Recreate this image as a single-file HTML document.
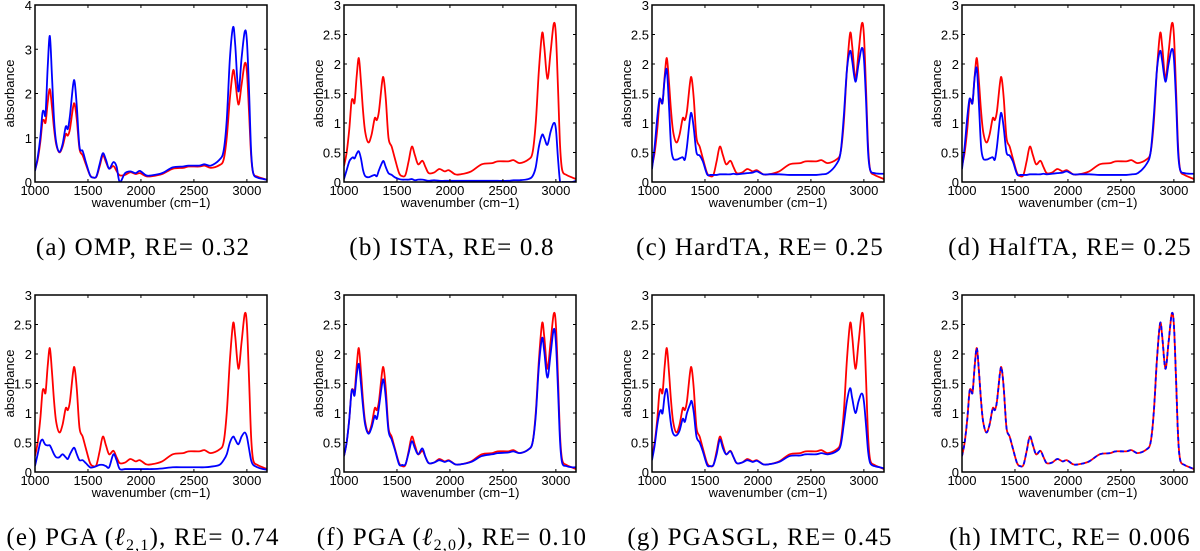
<!DOCTYPE html>
<html><head><meta charset="utf-8"><style>
html,body{margin:0;padding:0;background:#fff;}
svg{display:block;}
.tk{font-family:"Liberation Sans",sans-serif;font-size:13px;fill:#000;}
.cap{font-family:"Liberation Serif",serif;font-size:25px;letter-spacing:1.2px;fill:#000;}
</style></head><body>
<svg id="fig" width="1200" height="551" viewBox="0 0 1200 551"></svg>
<script>
const wavenumbers=[1000,1025,1050,1070,1085,1100,1120,1140,1160,1180,1200,1230,1260,1290,1310,1330,1360,1375,1395,1420,1450,1480,1520,1550,1580,1610,1640,1670,1700,1740,1770,1800,1850,1900,1950,1990,2050,2100,2200,2300,2400,2450,2550,2600,2660,2740,2780,2810,2840,2870,2890,2920,2950,2980,3000,3020,3040,3060,3100,3150,3190];
const redTrue=[0.27,0.5,0.9,1.35,1.4,1.35,1.8,2.1,1.7,1.2,0.85,0.67,0.8,1.08,1.05,1.2,1.7,1.75,1.4,0.75,0.6,0.4,0.15,0.1,0.12,0.35,0.6,0.45,0.3,0.36,0.25,0.15,0.16,0.22,0.18,0.2,0.13,0.13,0.18,0.3,0.32,0.35,0.35,0.37,0.32,0.38,0.5,1.0,1.9,2.52,2.3,1.75,2.2,2.68,2.5,1.6,0.6,0.2,0.12,0.08,0.05];
const blueOMP=[0.25,0.55,1.0,1.55,1.6,1.55,2.6,3.3,2.4,1.4,0.9,0.68,0.85,1.25,1.2,1.5,2.2,2.25,1.7,0.8,0.7,0.45,0.15,0.1,0.13,0.4,0.65,0.5,0.3,0.45,0.35,0.0,0.2,0.24,0.2,0.25,0.15,0.15,0.2,0.33,0.35,0.37,0.37,0.4,0.37,0.5,0.7,1.4,2.8,3.5,3.1,2.05,2.8,3.4,3.2,2.1,0.7,0.2,0.1,0.07,0.05];
const blueISTA=[0.05,0.2,0.35,0.4,0.42,0.4,0.48,0.52,0.4,0.2,0.1,0.08,0.1,0.12,0.1,0.2,0.33,0.35,0.25,0.15,0.12,0.08,0.05,0.04,0.04,0.04,0.05,0.03,0.04,0.04,0.03,0.02,0.03,0.02,0.02,0.02,0.02,0.02,0.02,0.02,0.02,0.02,0.02,0.03,0.03,0.05,0.1,0.25,0.6,0.8,0.75,0.63,0.85,1.0,0.9,0.4,0.0,0.0,0.0,0.0,0.02];
const blueHardTA=[0.22,0.6,1.1,1.4,1.38,1.35,1.75,1.9,1.3,0.6,0.4,0.38,0.4,0.42,0.38,0.6,1.1,1.15,0.9,0.5,0.45,0.35,0.13,0.12,0.12,0.12,0.13,0.13,0.13,0.13,0.14,0.13,0.14,0.15,0.16,0.18,0.13,0.13,0.13,0.12,0.12,0.12,0.12,0.13,0.15,0.3,0.5,1.1,1.9,2.22,2.05,1.7,2.0,2.27,2.1,1.4,0.5,0.2,0.15,0.14,0.14];
const blueHalfTA=[0.22,0.6,1.1,1.4,1.38,1.35,1.78,1.92,1.3,0.6,0.4,0.38,0.4,0.42,0.38,0.6,1.1,1.15,0.9,0.5,0.45,0.35,0.13,0.12,0.12,0.12,0.13,0.13,0.13,0.13,0.14,0.13,0.14,0.15,0.16,0.18,0.13,0.13,0.13,0.12,0.12,0.12,0.12,0.13,0.15,0.3,0.5,1.1,1.9,2.22,2.05,1.7,2.0,2.25,2.1,1.4,0.5,0.2,0.15,0.14,0.14];
const bluePGA21=[0.1,0.3,0.5,0.55,0.5,0.46,0.45,0.45,0.38,0.3,0.25,0.25,0.3,0.25,0.22,0.3,0.4,0.4,0.3,0.2,0.2,0.15,0.08,0.08,0.1,0.12,0.12,0.1,0.08,0.3,0.2,0.05,0.05,0.05,0.05,0.05,0.05,0.05,0.06,0.08,0.08,0.08,0.08,0.08,0.09,0.12,0.2,0.3,0.5,0.6,0.55,0.47,0.6,0.67,0.6,0.4,0.2,0.12,0.08,0.05,0.04];
const bluePGA20=[0.27,0.5,0.9,1.35,1.38,1.3,1.65,1.83,1.5,1.1,0.8,0.65,0.75,0.95,0.9,1.1,1.5,1.55,1.25,0.7,0.55,0.38,0.13,0.12,0.13,0.32,0.52,0.4,0.3,0.4,0.25,0.15,0.16,0.2,0.17,0.19,0.13,0.13,0.17,0.27,0.3,0.32,0.33,0.35,0.32,0.38,0.5,0.95,1.8,2.27,2.05,1.6,2.0,2.42,2.2,1.4,0.5,0.15,0.1,0.08,0.08];
const bluePGASGL=[0.2,0.45,0.8,1.0,1.05,1.0,1.3,1.4,1.1,0.8,0.65,0.62,0.7,0.9,0.85,1.0,1.15,1.2,1.0,0.6,0.5,0.35,0.12,0.1,0.12,0.3,0.55,0.4,0.3,0.35,0.25,0.15,0.16,0.2,0.17,0.19,0.13,0.13,0.17,0.27,0.28,0.3,0.3,0.32,0.3,0.35,0.45,0.8,1.2,1.42,1.25,1.0,1.2,1.33,1.2,0.8,0.35,0.15,0.1,0.08,0.06];
const blueIMTC=redTrue.slice();
const xTicks=[1000,1500,2000,2500,3000];
const yTicks4=[0,1,2,3,4];
const yTicks3=[0,0.5,1,1.5,2,2.5,3];
const panelNames=["omp","ista","hardta","halfta","pga-l21","pga-l20","pgasgl","imtc"];
const blueSeries=[blueOMP,blueISTA,blueHardTA,blueHalfTA,bluePGA21,bluePGA20,bluePGASGL,blueIMTC];
const yMaxes=[4,3,3,3,3,3,3,3];

const NS="http://www.w3.org/2000/svg";
const svg=document.getElementById('fig');
const lefts=[35,344,652,962], tops=[5,295], W=232, H=177, XMIN=1000, XMAX=3190;
function mk(tag,attrs,parent){const e=document.createElementNS(NS,tag);for(const k in attrs)e.setAttribute(k,attrs[k]);(parent||svg).appendChild(e);return e;}
function smoothPath(pts){let d="M"+pts[0][0].toFixed(2)+","+pts[0][1].toFixed(2);
 for(let i=0;i<pts.length-1;i++){const p0=pts[Math.max(0,i-1)],p1=pts[i],p2=pts[i+1],p3=pts[Math.min(pts.length-1,i+2)];
  const c1=[p1[0]+(p2[0]-p0[0])/6,p1[1]+(p2[1]-p0[1])/6],c2=[p2[0]-(p3[0]-p1[0])/6,p2[1]-(p3[1]-p1[1])/6];
  d+="C"+c1[0].toFixed(2)+","+c1[1].toFixed(2)+" "+c2[0].toFixed(2)+","+c2[1].toFixed(2)+" "+p2[0].toFixed(2)+","+p2[1].toFixed(2);}
 return d;}
const caps=[
 ["(a) OMP, RE= 0.32"],["(b) ISTA, RE= 0.8"],["(c) HardTA, RE= 0.25"],["(d) HalfTA, RE= 0.25"],
 ["(e) PGA (","2,1","), RE= 0.74"],["(f) PGA (","2,0","), RE= 0.10"],["(g) PGASGL, RE= 0.45"],["(h) IMTC, RE= 0.006"]];
for(let p=0;p<8;p++){
 const L=lefts[p%4], T=tops[Math.floor(p/4)], ymax=yMaxes[p];
 const sx=v=>L+(v-XMIN)/(XMAX-XMIN)*W, sy=v=>T+H-(v/ymax)*H;
 const g=mk('g',{});
 
 
 const cid='clip'+p;
 const cp=mk('clipPath',{id:cid},g); mk('rect',{x:L,y:T,width:W,height:H},cp);
 const red=mk('path',{d:smoothPath(wavenumbers.map((w,i)=>[sx(w),sy(redTrue[i])])),fill:'none',stroke:'#ff0000','stroke-width':1.8,'clip-path':'url(#'+cid+')'},g);
 
 
 const b=blueSeries[p];
 const blue=mk('path',{d:smoothPath(wavenumbers.map((w,i)=>[sx(w),sy(b[i])])),fill:'none',stroke:'#0000ff','stroke-width':1.8,'clip-path':'url(#'+cid+')'},g);
 if(p===7) blue.setAttribute('stroke-dasharray','4 3');
 
 
 const box=mk('rect',{x:L,y:T,width:W,height:H,fill:'none',stroke:'#000','stroke-width':1.5},g);
 
 
 xTicks.forEach(t=>{const x=sx(t);
  mk('line',{x1:x,y1:T+H,x2:x,y2:T+H-3,stroke:'#000','stroke-width':1},g);
  mk('line',{x1:x,y1:T,x2:x,y2:T+3,stroke:'#000','stroke-width':1},g);
  const tx=mk('text',{x:x,y:T+H+13,'text-anchor':'middle',class:'tk'},g);tx.textContent=t;
  
  });
 (ymax===4?yTicks4:yTicks3).forEach(t=>{const y=sy(t);
  mk('line',{x1:L,y1:y,x2:L+3,y2:y,stroke:'#000','stroke-width':1},g);
  mk('line',{x1:L+W,y1:y,x2:L+W-3,y2:y,stroke:'#000','stroke-width':1},g);
  const ty=mk('text',{x:L-3,y:y+5,'text-anchor':'end',class:'tk'},g);ty.textContent=t;
  
  });
 const xl=mk('text',{x:L+W/2,y:T+H+25,'text-anchor':'middle',class:'tk','font-size':'12'},g);xl.textContent='wavenumber (cm\u22121)';
 
 
 const yl=mk('text',{x:0,y:0,'text-anchor':'middle',class:'tk',transform:'translate('+(L-21)+','+(T+H/2)+') rotate(-90)'},g);yl.textContent='absorbance';
 
 
 const c=caps[p];
 const ct=mk('text',{x:L+W/2-8,y:T+H+73,'text-anchor':'middle',class:'cap'},g);
 
 
 if(c.length===1){ct.textContent=c[0];}
 else{const a=mk('tspan',{},ct);a.textContent=c[0];
  const l=mk('tspan',{'font-style':'italic'},ct);l.textContent='\u2113';
  const s=mk('tspan',{'font-size':'16','dy':'5'},ct);s.textContent=c[1];
  const e=mk('tspan',{'dy':'-5'},ct);e.textContent=c[2];}
}
</script>
</body></html>
